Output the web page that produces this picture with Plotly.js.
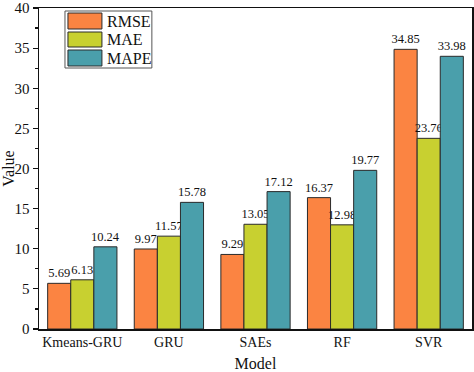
<!DOCTYPE html>
<html><head><meta charset="utf-8">
<script src="https://cdn.plot.ly/plotly-3.0.1.min.js"></script>
<style>html,body{margin:0;padding:0;background:#fff}#c{width:474px;height:372px}</style>
</head><body><div id="c"></div>
<script>
const categories = ["Kmeans-GRU", "GRU", "SAEs", "RF", "SVR"];
const rmse = [5.69, 9.97, 9.29, 16.37, 34.85];
const mae  = [6.13, 11.57, 13.05, 12.98, 23.76];
const mape = [10.24, 15.78, 17.12, 19.77, 33.98];
const seriesNames = ["RMSE", "MAE", "MAPE"];
const colors = ["#FB8442", "#C8D030", "#4A9FAB"];
const font = "Liberation Serif, Times New Roman, serif";

const data = [rmse, mae, mape].map((v, i) => ({
  type: "bar", x: categories, y: v, name: seriesNames[i],
  marker: {color: colors[i], line: {color: "#2a2a2a", width: 1}},
  text: v.map(n => n.toFixed(2)), textposition: "outside",
  textfont: {family: font, size: 12.5, color: "#111"},
  cliponaxis: false, showlegend: false
}));

const T = 8, B = 329, L = 39, R = 472.5;
const px = x => (x - L) / (R - L);
const py = y => (B - y) / (B - T);

// custom legend (layout decoration)
const shapes = [];
const annotations = [];
shapes.push({type: "rect", xref: "paper", yref: "paper",
  x0: px(65), x1: px(152), y0: py(68), y1: py(11),
  line: {color: "#555", width: 1}, fillcolor: "#fff"});
const rowsY = [[13, 29], [32, 47], [50, 66]];
seriesNames.forEach((n, i) => {
  shapes.push({type: "rect", xref: "paper", yref: "paper",
    x0: px(68), x1: px(102), y0: py(rowsY[i][1]), y1: py(rowsY[i][0]),
    line: {color: "#2a2a2a", width: 1}, fillcolor: colors[i]});
  annotations.push({xref: "paper", yref: "paper", x: px(105),
    y: py((rowsY[i][0] + rowsY[i][1]) / 2), xanchor: "left", yanchor: "middle",
    text: n, showarrow: false, font: {family: font, size: 16, color: "#111"}});
});

const layout = {
  width: 474, height: 372,
  margin: {l: L, r: 474 - R, t: T, b: 372 - B},
  paper_bgcolor: "#fff", plot_bgcolor: "#fff",
  barmode: "group", bargap: 0.2, bargroupgap: 0,
  uniformtext: {minsize: 12.5, mode: "show"},
  font: {family: font, size: 15, color: "#111"},
  xaxis: {
    title: {text: "Model", font: {family: font, size: 16}, standoff: 8},
    showline: true, linecolor: "#111", linewidth: 1.5, mirror: true,
    ticks: "", tickfont: {family: font, size: 14}, showgrid: false
  },
  yaxis: {
    title: {text: "Value", font: {family: font, size: 16}, standoff: 2},
    range: [0, 40], dtick: 5, showline: true, linecolor: "#111", linewidth: 1.5, mirror: true,
    ticks: "outside", ticklen: 5, tickwidth: 1.2, tickcolor: "#111",
    ticklabeloverflow: "allow",
    minor: {dtick: 2.5, ticks: "outside", ticklen: 3, tickwidth: 1.2, tickcolor: "#111"},
    tickfont: {family: font, size: 15}, showgrid: false, zeroline: false
  },
  shapes: shapes, annotations: annotations
};
Plotly.newPlot("c", data, layout, {staticPlot: true, displayModeBar: false});
</script></body></html>
